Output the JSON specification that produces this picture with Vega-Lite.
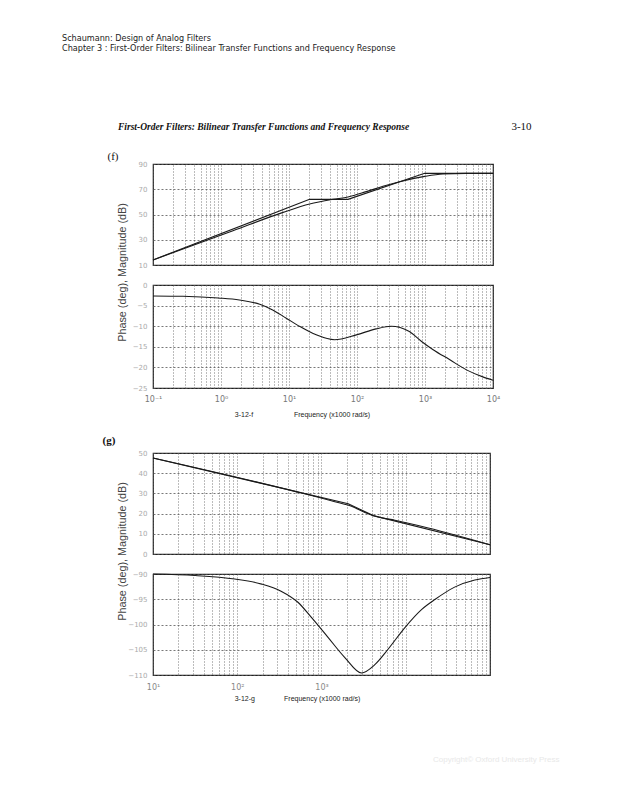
{
  "$schema": "https://vega.github.io/schema/vega-lite/v6.json",
  "background": "white",
  "padding": {"left": 62, "top": 34, "right": 5, "bottom": 5},
  "title": {
    "text": "Schaumann: Design of Analog Filters",
    "subtitle": "Chapter 3 : First-Order Filters: Bilinear Transfer Functions and Frequency Response",
    "anchor": "start", "frame": "group", "dx": -91, "offset": 66,
    "font": "DejaVu Sans Condensed, DejaVu Sans", "fontSize": 9, "fontWeight": "normal", "color": "#222",
    "subtitleFont": "DejaVu Sans Condensed, DejaVu Sans", "subtitleFontSize": 9, "subtitleColor": "#222", "subtitlePadding": 1
  },
  "datasets": {
    "fmag_asym": [
      {"f": 0.1, "v": 14.0}, {"f": 20.1, "v": 62.0}, {"f": 73.8, "v": 62.0}, {"f": 989, "v": 82.6}, {"f": 10000, "v": 82.6}
    ],
    "fmag_curve": [
      {"f": 0.1, "v": 14.0}, {"f": 1.5, "v": 37.2}, {"f": 8.17, "v": 51.7}, {"f": 20.1, "v": 58.3},
      {"f": 44.4, "v": 62.0}, {"f": 73.8, "v": 63.9}, {"f": 137, "v": 68.1}, {"f": 241, "v": 72.3},
      {"f": 424, "v": 76.0}, {"f": 989, "v": 80.2}, {"f": 1841, "v": 82.1}, {"f": 4055, "v": 82.6}, {"f": 10000, "v": 82.6}
    ],
    "fphase": [
      {"f": 0.1, "v": -2.66}, {"f": 0.275, "v": -2.74}, {"f": 0.912, "v": -3.15}, {"f": 1.862, "v": -3.63},
      {"f": 3.715, "v": -4.68}, {"f": 5.754, "v": -6.05}, {"f": 9.12, "v": -8.06}, {"f": 14.45, "v": -10.08},
      {"f": 25.12, "v": -12.1}, {"f": 46.8, "v": -13.3}, {"f": 97.7, "v": -12.1}, {"f": 190.5, "v": -10.65},
      {"f": 316, "v": -10.0}, {"f": 588.8, "v": -11.29}, {"f": 891, "v": -13.7}, {"f": 1318, "v": -15.7},
      {"f": 2291, "v": -18.1}, {"f": 4074, "v": -20.6}, {"f": 7079, "v": -22.3}, {"f": 10000, "v": -23.1}
    ],
    "gmag_asym": [
      {"f": 10, "v": 47.5}, {"f": 2075, "v": 24.9}, {"f": 4111, "v": 19.0}, {"f": 100000, "v": 4.6}
    ],
    "gmag_curve": [
      {"f": 10, "v": 47.5}, {"f": 482, "v": 31.0}, {"f": 1439, "v": 25.9}, {"f": 2270, "v": 23.6},
      {"f": 3273, "v": 20.6}, {"f": 4710, "v": 18.3}, {"f": 7430, "v": 16.7}, {"f": 18490, "v": 12.9}, {"f": 100000, "v": 4.6}
    ],
    "gphase": [
      {"f": 10, "v": -90.0}, {"f": 31.6, "v": -90.3}, {"f": 93.3, "v": -91.0}, {"f": 195, "v": -92.0},
      {"f": 331, "v": -93.4}, {"f": 525, "v": -95.6}, {"f": 759, "v": -98.6}, {"f": 1202, "v": -102.6},
      {"f": 1905, "v": -106.6}, {"f": 2985, "v": -109.6}, {"f": 4266, "v": -108.0}, {"f": 6166, "v": -104.9},
      {"f": 9772, "v": -100.6}, {"f": 15488, "v": -97.0}, {"f": 22387, "v": -95.0}, {"f": 38019, "v": -92.6},
      {"f": 66069, "v": -91.2}, {"f": 100000, "v": -90.7}
    ]
  },
  "config": {
    "view": {"stroke": "#222", "strokeWidth": 1.2},
    "axis": {
      "ticks": false, "tickSize": 0, "domain": false, "grid": true,
      "gridColor": "#555", "gridWidth": 0.8,
      "labelFont": "DejaVu Sans", "labelFontSize": 7, "labelColor": "#aaa",
      "titleFontWeight": "normal"
    },
    "axisX": {"gridDash": [1, 2]},
    "axisY": {"gridDash": [2, 2], "labelPadding": 6}
  },
  "spacing": 15,
  "vconcat": [
    {
      "spacing": 20,
      "bounds": "flush",
      "vconcat": [
        {
          "width": 340, "height": 101,
          "title": {
            "text": "First-Order Filters: Bilinear Transfer Functions and Frequency Response",
            "anchor": "start", "frame": "group", "dx": -35, "dy": 11, "offset": 0,
            "font": "Liberation Serif", "fontSize": 9.5, "fontStyle": "italic", "fontWeight": "bold", "color": "#111"
          },
          "encoding": {
            "x": {
              "field": "f", "type": "quantitative",
              "scale": {"type": "log", "domain": [0.1, 10000], "nice": false},
              "axis": {
                "orient": "top",
                "values": [0.1,0.2,0.3,0.4,0.5,0.6,0.7,0.8,0.9,1,2,3,4,5,6,7,8,9,10,20,30,40,50,60,70,80,90,100,200,300,400,500,600,700,800,900,1000,2000,3000,4000,5000,6000,7000,8000,9000,10000],
                "labels": false,
                "title": "3-10", "titleX": 368, "titleY": -35, "titleAlign": "center", "titleBaseline": "alphabetic",
                "titleFont": "Liberation Serif", "titleFontSize": 11, "titleColor": "#111"
              }
            },
            "y": {
              "field": "v", "type": "quantitative",
              "scale": {"domain": [10, 90], "nice": false, "zero": false},
              "axis": {
                "values": [10, 30, 50, 70, 90],
                "title": "(f)", "titleAngle": 0, "titleX": -46, "titleY": -5, "titleAlign": "left", "titleBaseline": "alphabetic",
                "titleFont": "Liberation Serif", "titleFontSize": 11, "titleColor": "#111"
              }
            }
          },
          "layer": [
            {"data": {"name": "fmag_asym"}, "mark": {"type": "line", "color": "#1a1a1a", "strokeWidth": 1.1}},
            {"data": {"name": "fmag_curve"}, "mark": {"type": "line", "interpolate": "monotone", "color": "#1a1a1a", "strokeWidth": 1.1}}
          ]
        },
        {
          "width": 340, "height": 103,
          "data": {"name": "fphase"},
          "mark": {"type": "line", "interpolate": "monotone", "color": "#1a1a1a", "strokeWidth": 1.1},
          "encoding": {
            "x": {
              "field": "f", "type": "quantitative",
              "scale": {"type": "log", "domain": [0.1, 10000], "nice": false},
              "axis": {
                "orient": "bottom",
                "values": [0.1,0.2,0.3,0.4,0.5,0.6,0.7,0.8,0.9,1,2,3,4,5,6,7,8,9,10,20,30,40,50,60,70,80,90,100,200,300,400,500,600,700,800,900,1000,2000,3000,4000,5000,6000,7000,8000,9000,10000],
                "labelExpr": "abs(log(datum.value)/LN10 - round(log(datum.value)/LN10)) < 0.01 ? ['10⁻¹','10⁰','10¹','10²','10³','10⁴','10⁵'][round(log(datum.value)/LN10) + 1] : ''",
                "labelFlush": false, "labelOverlap": false, "labelBound": false,
                "labelFontSize": 8, "labelColor": "#777", "labelPadding": 7,
                "title": "3-12-f\u00a0\u00a0\u00a0\u00a0\u00a0\u00a0\u00a0\u00a0\u00a0\u00a0\u00a0\u00a0\u00a0\u00a0\u00a0\u00a0\u00a0\u00a0\u00a0\u00a0\u00a0Frequency (x1000 rad/s)",
                "titleX": 149, "titleY": 28, "titleAlign": "center", "titleBaseline": "alphabetic",
                "titleFont": "Liberation Sans", "titleFontSize": 7, "titleColor": "#222"
              }
            },
            "y": {
              "field": "v", "type": "quantitative",
              "scale": {"domain": [-25, 0], "nice": false, "zero": false},
              "axis": {
                "values": [0, -5, -10, -15, -20, -25],
                "title": "Phase (deg), Magnitude (dB)", "titleAngle": -90, "titleX": -28, "titleY": -13,
                "titleAlign": "center", "titleBaseline": "alphabetic",
                "titleFont": "Liberation Sans", "titleFontSize": 10.8, "titleColor": "#444"
              }
            }
          }
        }
      ]
    },
    {
      "spacing": 20,
      "bounds": "flush",
      "vconcat": [
        {
          "width": 337, "height": 101,
          "encoding": {
            "x": {
              "field": "f", "type": "quantitative",
              "scale": {"type": "log", "domain": [10, 100000], "nice": false},
              "axis": {
                "orient": "bottom",
                "values": [10,20,30,40,50,60,70,80,90,100,200,300,400,500,600,700,800,900,1000,2000,3000,4000,5000,6000,7000,8000,9000,10000,20000,30000,40000,50000,60000,70000,80000,90000,100000],
                "labels": false, "title": null
              }
            },
            "y": {
              "field": "v", "type": "quantitative",
              "scale": {"domain": [0, 50], "nice": false, "zero": false},
              "axis": {
                "values": [0, 10, 20, 30, 40, 50],
                "title": "(g)", "titleAngle": 0, "titleX": -51, "titleY": -10, "titleAlign": "left", "titleBaseline": "alphabetic",
                "titleFont": "Liberation Serif", "titleFontSize": 11, "titleFontWeight": "bold", "titleColor": "#111"
              }
            }
          },
          "layer": [
            {"data": {"name": "gmag_asym"}, "mark": {"type": "line", "color": "#1a1a1a", "strokeWidth": 1.1}},
            {"data": {"name": "gmag_curve"}, "mark": {"type": "line", "interpolate": "monotone", "color": "#1a1a1a", "strokeWidth": 1.1}}
          ]
        },
        {
          "width": 337, "height": 101,
          "title": {
            "text": "Copyright© Oxford University Press", "orient": "bottom", "anchor": "start", "frame": "group",
            "dx": 280, "offset": 55, "font": "Liberation Sans", "fontSize": 8, "fontWeight": "normal", "color": "#e8e8e8"
          },
          "data": {"name": "gphase"},
          "mark": {"type": "line", "interpolate": "monotone", "color": "#1a1a1a", "strokeWidth": 1.1},
          "encoding": {
            "x": {
              "field": "f", "type": "quantitative",
              "scale": {"type": "log", "domain": [10, 100000], "nice": false},
              "axis": {
                "orient": "bottom",
                "values": [10,20,30,40,50,60,70,80,90,100,200,300,400,500,600,700,800,900,1000,2000,3000,4000,5000,6000,7000,8000,9000,10000,20000,30000,40000,50000,60000,70000,80000,90000,100000],
                "labelExpr": "abs(log(datum.value)/LN10 - round(log(datum.value)/LN10)) < 0.01 && round(log(datum.value)/LN10) <= 3 ? ['','10¹','10²','10³'][round(log(datum.value)/LN10)] : ''",
                "labelFlush": false, "labelOverlap": false, "labelBound": false,
                "labelFontSize": 8, "labelColor": "#888", "labelPadding": 8,
                "title": "3-12-g\u00a0\u00a0\u00a0\u00a0\u00a0\u00a0\u00a0\u00a0\u00a0\u00a0\u00a0\u00a0\u00a0\u00a0\u00a0Frequency (x1000 rad/s)",
                "titleX": 144, "titleY": 25, "titleAlign": "center", "titleBaseline": "alphabetic",
                "titleFont": "Liberation Sans", "titleFontSize": 7, "titleColor": "#222"
              }
            },
            "y": {
              "field": "v", "type": "quantitative",
              "scale": {"domain": [-110, -90], "nice": false, "zero": false},
              "axis": {
                "values": [-90, -95, -100, -105, -110],
                "title": "Phase (deg), Magnitude (dB)", "titleAngle": -90, "titleX": -28, "titleY": -23,
                "titleAlign": "center", "titleBaseline": "alphabetic",
                "titleFont": "Liberation Sans", "titleFontSize": 10.8, "titleColor": "#444"
              }
            }
          }
        }
      ]
    }
  ]
}
